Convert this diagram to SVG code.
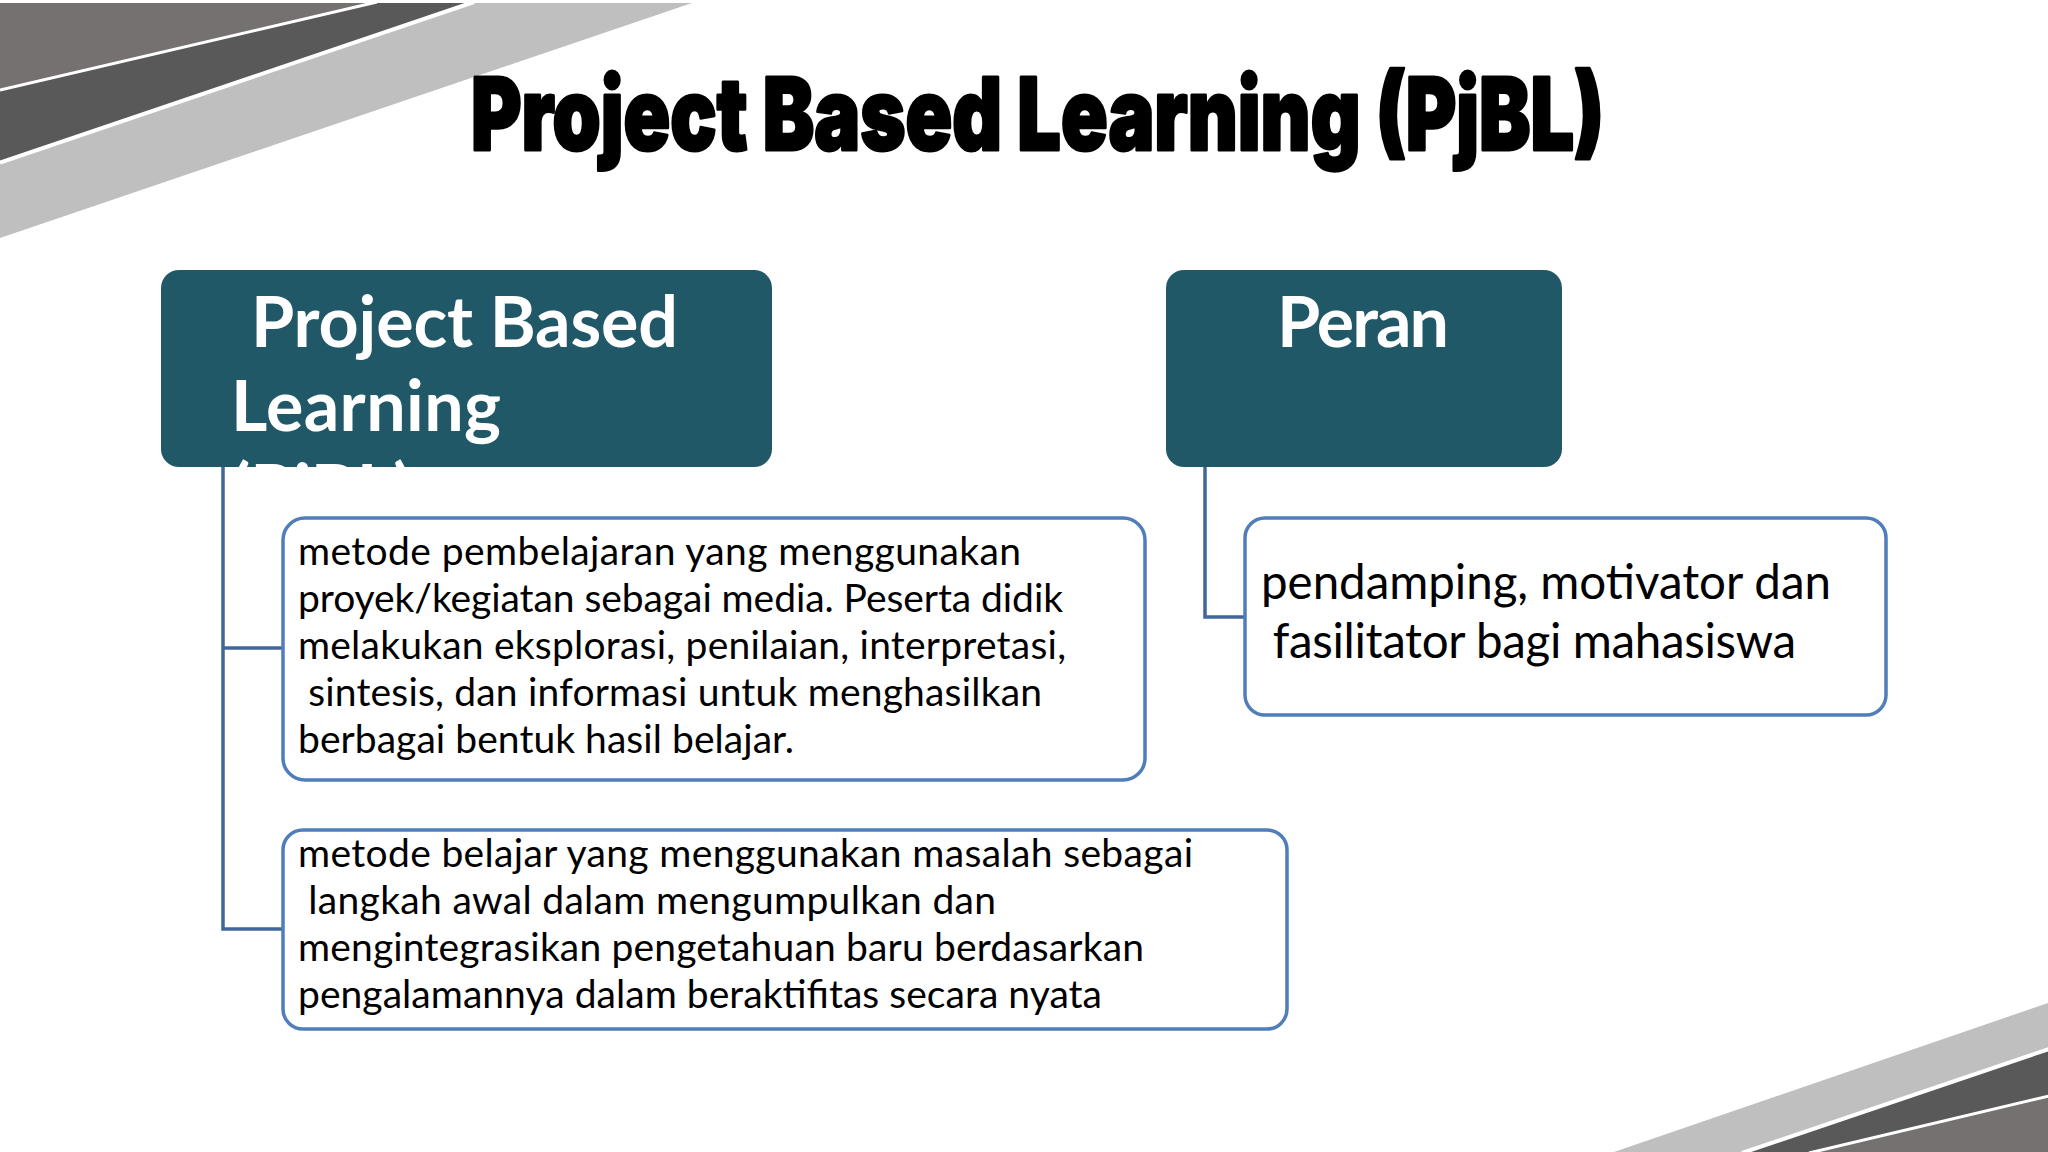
<svg xmlns="http://www.w3.org/2000/svg" width="2048" height="1152" viewBox="0 0 2048 1152">
<style>
  .band-light{fill:#BFBFBF}
  .band-dark{fill:#595959}
  .band-brown{fill:#767171}
  .sep{stroke:#FFFFFF;stroke-width:4}
  .title{font-family:Inter,"Liberation Sans",sans-serif;font-weight:900;font-size:100px;fill:#000;stroke:#000;stroke-width:3;stroke-linejoin:round}
  .head{fill:#215868}
  .headtxt{font-family:Lato,"Liberation Sans",sans-serif;font-weight:700;font-size:70px;fill:#FFFFFF}
  .box{fill:#FFFFFF;stroke:#4F7EBB;stroke-width:3.5}
  .txt{font-family:Lato,"Liberation Sans",sans-serif;font-size:39px;fill:#000}
  .txtL{font-family:Lato,"Liberation Sans",sans-serif;font-size:47.5px;fill:#000}
  .conn{fill:none;stroke:#41679A;stroke-width:3.5}
</style>
<rect width="2048" height="1152" fill="#FFFFFF"/>
<g id="decoration">
  <polygon class="band-light" points="0,3 692,3 0,238"/>
  <polygon class="band-dark" points="0,3 470,3 0,161"/>
  <polygon class="band-brown" points="0,3 373,3 0,89"/>
  <line class="sep" x1="0" y1="162.5" x2="474" y2="2"/>
  <line class="sep" x1="0" y1="90" x2="377" y2="2" style="stroke-width:3"/>
  <polygon class="band-light" points="1614,1152 2048,1003 2048,1152"/>
  <polygon class="band-dark" points="1744,1152 2048,1050 2048,1152"/>
  <polygon class="band-brown" points="1811,1152 2048,1097 2048,1152"/>
  <line class="sep" x1="1742" y1="1153" x2="2049" y2="1049"/>
  <line class="sep" x1="1809" y1="1153" x2="2049" y2="1096" style="stroke-width:3"/>
</g>
<g id="title">
  <text class="title" x="471" y="150" textLength="1133" lengthAdjust="spacingAndGlyphs">Project Based Learning (PjBL)</text>
</g>
<g id="connectors">
  <polyline class="conn" points="223,467 223,929 283,929"/>
  <line class="conn" x1="223" y1="648" x2="283" y2="648"/>
  <polyline class="conn" points="1205,467 1205,617 1245,617"/>
</g>
<g id="node-pbl">
  <rect class="head" x="161" y="270" width="611" height="197" rx="18"/>
  <text class="headtxt" x="251" y="347" textLength="427">Project Based</text>
  <text class="headtxt" x="231" y="431" textLength="270">Learning</text>
  <text class="headtxt" x="231" y="515">(PjBL)</text>
</g>
<g id="node-peran">
  <rect class="head" x="1166" y="270" width="396" height="197" rx="18"/>
  <text class="headtxt" x="1277" y="347" textLength="172">Peran</text>
</g>
<g id="node-pbl-def">
  <rect class="box" x="283" y="518" width="862" height="262" rx="22"/>
  <text class="txt" x="298" y="565" textLength="723">metode pembelajaran yang menggunakan</text>
  <text class="txt" x="298" y="612" textLength="765">proyek/kegiatan sebagai media. Peserta didik</text>
  <text class="txt" x="298" y="659" textLength="768">melakukan eksplorasi, penilaian, interpretasi,</text>
  <text class="txt" x="298" y="706" xml:space="preserve" textLength="744"> sintesis, dan informasi untuk menghasilkan</text>
  <text class="txt" x="298" y="753" textLength="496">berbagai bentuk hasil belajar.</text>
</g>
<g id="node-pbl-def2">
  <rect class="box" x="283" y="830" width="1004" height="199" rx="20"/>
  <text class="txt" x="298" y="867" textLength="895">metode belajar yang menggunakan masalah sebagai</text>
  <text class="txt" x="298" y="914" xml:space="preserve" textLength="698"> langkah awal dalam mengumpulkan dan</text>
  <text class="txt" x="298" y="961" textLength="846">mengintegrasikan pengetahuan baru berdasarkan</text>
  <text class="txt" x="298" y="1008" textLength="804">pengalamannya dalam beraktifitas secara nyata</text>
</g>
<g id="node-peran-def">
  <rect class="box" x="1245" y="518" width="641" height="197" rx="20"/>
  <text class="txtL" x="1261" y="599" textLength="570">pendamping, motivator dan</text>
  <text class="txtL" x="1261" y="658" xml:space="preserve" textLength="535"> fasilitator bagi mahasiswa</text>
</g>
</svg>
